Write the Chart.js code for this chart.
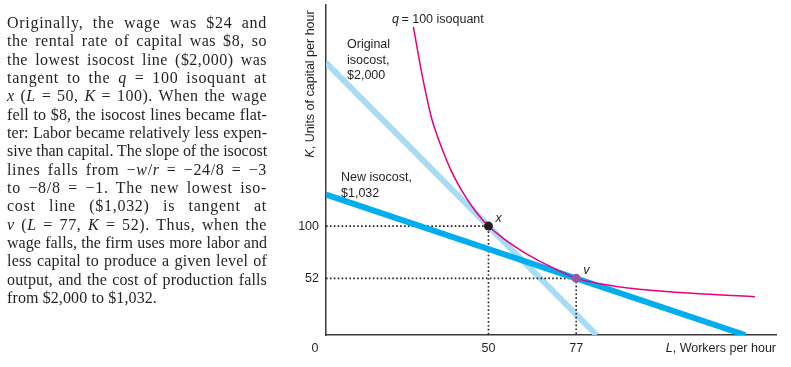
<!DOCTYPE html>
<html>
<head>
<meta charset="utf-8">
<script src="https://cdn.jsdelivr.net/npm/chart.js@4.4.1/dist/chart.umd.min.js"></script>
<style>
  html, body { margin: 0; padding: 0; background: #fff; }
  #wrap { position: relative; width: 791px; height: 367px; overflow: hidden; }
  #chart { position: absolute; left: 0; top: 0; }
  #note {
    position: absolute; left: 7px; top: 14px; width: 260px;
    font-family: "Liberation Serif", "DejaVu Serif", serif;
    font-size: 16px; line-height: 18.33px; color: #231f20;
  }
  #note div { white-space: nowrap; text-align: left; }
  #note.ready div { text-align: justify; text-align-last: justify; }
  #note.ready div.last { text-align-last: left; }
</style>
</head>
<body>
<div id="wrap">
  <canvas id="chart" width="791" height="367"></canvas>
  <div id="note">
    <div>Originally, the wage was $24 and</div>
    <div>the rental rate of capital was $8, so</div>
    <div>the lowest isocost line ($2,000) was</div>
    <div>tangent to the <i>q</i> = 100 isoquant at</div>
    <div><i>x</i> (<i>L</i> = 50, <i>K</i> = 100). When the wage</div>
    <div>fell to $8, the isocost lines became flat-</div>
    <div>ter: Labor became relatively less expen-</div>
    <div>sive than capital. The slope of the isocost</div>
    <div>lines falls from −<i>w</i>/<i>r</i> = −24/8 = −3</div>
    <div>to −8/8 = −1. The new lowest iso-</div>
    <div>cost line ($1,032) is tangent at</div>
    <div><i>v</i> (<i>L</i> = 77, <i>K</i> = 52). Thus, when the</div>
    <div>wage falls, the firm uses more labor and</div>
    <div>less capital to produce a given level of</div>
    <div>output, and the cost of production falls</div>
    <div class="last">from $2,000 to $1,032.</div>
  </div>
</div>
<script>
// values
const isoquantL = [26.9, 29.5, 32.5, 34.1, 38.2, 42.2, 46.2, 50, 55.1, 59.7, 64.6, 69.9, 77, 81.2, 85.2, 92.9, 100.6, 116, 132];
const isoquantK = [283, 240, 199, 184, 153, 130.5, 113, 100, 87.5, 78.2, 69.6, 61.6, 52, 49, 46.6, 43.1, 40.8, 37.6, 35.2];

const oldIsocostL = [0, 83.3];
const oldIsocostK = [250, 0];
const newIsocostL = [0, 129];
const newIsocostK = [129, 0];

const pointNames = ['x', 'v'];
const pointL = [50, 77];
const pointK = [100, 52];
const pointColors = ['#231f20', '#9b55a3'];

const xTicks = [50, 77];
const yTicks = [100, 52];

const ink = '#231f20';
const sans = '"Liberation Sans", Arial, sans-serif';

// spread the paragraph lines a little like the typeset original
(function () {
    const note = document.getElementById('note');
    const lines = note.querySelectorAll('div');
    lines.forEach(function (d) {
        const r = document.createRange();
        r.selectNodeContents(d);
        const w = r.getBoundingClientRect().width;
        const n = d.textContent.length;
        const isLast = d.classList.contains('last');
        const target = isLast ? 150 : 259.5;
        const share = (isLast || w > target) ? 1 : 0.55;
        let ls = (target - w) * share / n;
        ls = Math.max(-1, Math.min(0.7, ls));
        d.style.letterSpacing = ls.toFixed(2) + 'px';
    });
    note.classList.add('ready');
})();

function toXY(xs, ys) {
    return xs.map((v, i) => ({ x: v, y: ys[i] }));
}

// dotted guides from the axes to the two tangency points
const guideSets = [];
pointL.forEach((l, i) => {
    guideSets.push({
        data: [{ x: 0, y: pointK[i] }, { x: l, y: pointK[i] }, { x: l, y: 0 }],
        showLine: true,
        borderColor: ink,
        borderWidth: 1.6,
        borderDash: [1.6, 2.3],
        pointRadius: 0,
        order: 4
    });
});

const labelsPlugin = {
    id: 'labels',
    afterDatasetsDraw(chart) {
        const ctx = chart.ctx;
        const xs = chart.scales.x, ys = chart.scales.y;
        ctx.save();
        ctx.fillStyle = ink;
        ctx.font = '12.5px ' + sans;

        // tick labels
        ctx.textAlign = 'center';
        ctx.textBaseline = 'alphabetic';
        xTicks.forEach(t => ctx.fillText(String(t), xs.getPixelForValue(t), 352));
        ctx.fillText('0', xs.getPixelForValue(0) - 11, 352);
        ctx.textAlign = 'right';
        ctx.textBaseline = 'middle';
        yTicks.forEach(t => ctx.fillText(String(t), xs.left - 7, ys.getPixelForValue(t)));

        // axis titles
        ctx.textBaseline = 'alphabetic';
        ctx.textAlign = 'left';
        let w1 = ctx.measureText(', Workers per hour').width;
        ctx.fillText(', Workers per hour', xs.right - w1, 352);
        ctx.font = 'italic 12.5px ' + sans;
        ctx.textAlign = 'right';
        ctx.fillText('L', xs.right - w1, 352);

        ctx.save();
        ctx.translate(314, 84);
        ctx.rotate(-Math.PI / 2);
        let rest = ', Units of capital per hour';
        ctx.font = 'italic 12.5px ' + sans;
        let kw = ctx.measureText('K').width;
        ctx.font = '12.5px ' + sans;
        let rw = ctx.measureText(rest).width;
        let start = -(kw + rw) / 2;
        ctx.textAlign = 'left';
        ctx.fillText(rest, start + kw, 0);
        ctx.font = 'italic 12.5px ' + sans;
        ctx.fillText('K', start, 0);
        ctx.restore();

        // curve labels
        ctx.textAlign = 'left';
        ctx.font = 'italic 12.5px ' + sans;
        ctx.fillText('q', 392, 23);
        let qw = ctx.measureText('q').width;
        ctx.font = '12.5px ' + sans;
        ctx.fillText(' = 100 isoquant', 392 + qw - 1, 23);

        ctx.fillText('Original', 347, 48);
        ctx.fillText('isocost,', 347, 64);
        ctx.fillText('$2,000', 347, 79);
        ctx.fillText('New isocost,', 341, 181);
        ctx.fillText('$1,032', 341, 196.5);

        ctx.font = 'italic 12.5px ' + sans;
        pointNames.forEach((n, i) => {
            ctx.fillText(n, xs.getPixelForValue(pointL[i]) + 7, ys.getPixelForValue(pointK[i]) - 4);
        });
        ctx.restore();
    }
};

new Chart(document.getElementById('chart'), {
    type: 'scatter',
    data: {
        datasets: [
            {
                data: toXY(oldIsocostL, oldIsocostK),
                showLine: true,
                borderColor: '#a8dcf4',
                borderWidth: 6,
                pointRadius: 0,
                order: 5
            },
            ...guideSets,
            {
                data: toXY(newIsocostL, newIsocostK),
                showLine: true,
                borderColor: '#00aeef',
                borderWidth: 6,
                pointRadius: 0,
                order: 3
            },
            {
                data: toXY(isoquantL, isoquantK),
                showLine: true,
                borderColor: '#e6007e',
                borderWidth: 1.5,
                cubicInterpolationMode: 'monotone',
                pointRadius: 0,
                order: 2
            },
            {
                data: toXY(pointL, pointK),
                showLine: false,
                pointRadius: 4.5,
                pointBackgroundColor: pointColors,
                pointBorderWidth: 0,
                order: 1
            }
        ]
    },
    options: {
        responsive: false,
        animation: false,
        devicePixelRatio: 1,
        layout: { padding: { left: 326, right: 15, top: 5, bottom: 32 } },
        plugins: { legend: { display: false }, tooltip: { enabled: false } },
        scales: {
            x: {
                type: 'linear', min: 0, max: 138.5,
                grid: { display: false, drawTicks: false },
                ticks: { display: false },
                border: { color: '#3a3a3a', width: 1.5 },
                afterFit: s => { s.height = 0; }
            },
            y: {
                type: 'linear', min: 0, max: 303,
                grid: { display: false, drawTicks: false },
                ticks: { display: false },
                border: { color: '#3a3a3a', width: 1.5 },
                afterFit: s => { s.width = 0; }
            }
        }
    },
    plugins: [labelsPlugin]
});
</script>
</body>
</html>
